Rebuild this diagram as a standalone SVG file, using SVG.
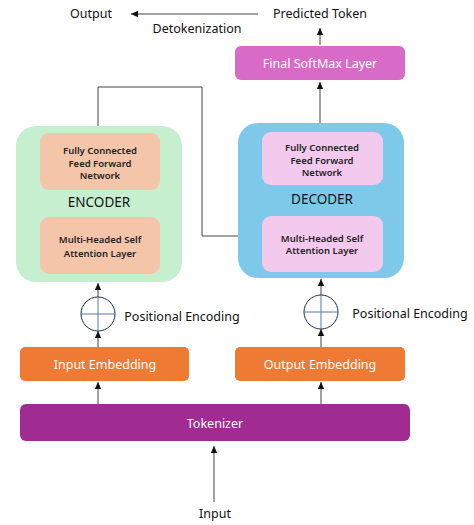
<svg xmlns="http://www.w3.org/2000/svg" width="474" height="525" viewBox="0 0 474 525">
<style>
text{font-family:"Noto Sans","Liberation Sans",sans-serif;text-anchor:middle;dominant-baseline:central}
.lbl{font-size:12.5px;fill:#111}
.w{font-size:12.5px;fill:#fff}
.sm{font-size:9.5px;fill:#222;font-weight:600}
.big{font-size:13.5px;fill:#111}
.ln{stroke:#444;stroke-width:1;fill:none}
</style>
<defs>
<marker id="ah" markerWidth="8" markerHeight="8" refX="7" refY="4" orient="auto" markerUnits="userSpaceOnUse">
<path d="M0,0.8 L7,4 L0,7.2 Z" fill="#111"/>
</marker>
</defs>
<rect width="474" height="525" fill="#fff"/>
<g id="connectors">
<line class="ln" x1="258" y1="14" x2="131" y2="14" marker-end="url(#ah)"/>
<line class="ln" x1="320" y1="45" x2="320" y2="28" marker-end="url(#ah)"/>
<line class="ln" x1="320" y1="123" x2="320" y2="82" marker-end="url(#ah)"/>
<polyline class="ln" points="98,126 98,87 202,87 202,236 238,236"/>
<line class="ln" x1="98" y1="297" x2="98" y2="283" marker-end="url(#ah)"/>
<line class="ln" x1="321" y1="295" x2="321" y2="279" marker-end="url(#ah)"/>
<line class="ln" x1="98" y1="347" x2="98" y2="331" marker-end="url(#ah)"/>
<line class="ln" x1="321" y1="347" x2="321" y2="329" marker-end="url(#ah)"/>
<line class="ln" x1="98" y1="404" x2="98" y2="382" marker-end="url(#ah)"/>
<line class="ln" x1="321" y1="404" x2="321" y2="382" marker-end="url(#ah)"/>
<line class="ln" x1="214" y1="502" x2="214" y2="446" marker-end="url(#ah)"/>
</g>
<g id="output"><text class="lbl" x="91" y="13">Output</text></g>
<g id="detok"><text class="lbl" x="197" y="28">Detokenization</text></g>
<g id="predicted"><text class="lbl" x="320" y="13">Predicted Token</text></g>
<g id="softmax">
<rect x="235" y="46" width="170" height="34" rx="6" fill="#d86bc8"/>
<text class="w" x="320" y="63">Final SoftMax Layer</text>
</g>
<g id="encoder">
<rect x="16" y="126" width="166" height="156" rx="20" fill="#c6efd0"/>
<rect x="40" y="133" width="120" height="57" rx="9" fill="#f5c5aa"/>
<text class="sm" x="100" y="150">Fully Connected</text>
<text class="sm" x="100" y="163">Feed Forward</text>
<text class="sm" x="100" y="175">Network</text>
<text class="big" x="99" y="202">ENCODER</text>
<rect x="40" y="217" width="120" height="57" rx="9" fill="#f5c5aa"/>
<text class="sm" x="100" y="239">Multi-Headed Self</text>
<text class="sm" x="100" y="253">Attention Layer</text>
</g>
<g id="decoder">
<rect x="238" y="123" width="166" height="155" rx="20" fill="#7ec8e9"/>
<rect x="262" y="132" width="121" height="53" rx="9" fill="#f3c9ee"/>
<text class="sm" x="322" y="147">Fully Connected</text>
<text class="sm" x="322" y="160">Feed Forward</text>
<text class="sm" x="322" y="172">Network</text>
<text class="big" x="322" y="199">DECODER</text>
<rect x="262" y="216" width="121" height="56" rx="9" fill="#f3c9ee"/>
<text class="sm" x="322" y="238">Multi-Headed Self</text>
<text class="sm" x="322" y="250">Attention Layer</text>
</g>
<g id="pe-left">
<circle cx="98" cy="314" r="17" fill="#fff" stroke="#1f2f4a" stroke-width="1"/>
<line x1="81" y1="314" x2="115" y2="314" stroke="#5a7a9a" stroke-width="1"/>
<line x1="98" y1="297" x2="98" y2="331" stroke="#5a7a9a" stroke-width="1"/>
<text class="lbl" x="182" y="316">Positional Encoding</text>
</g>
<g id="pe-right">
<circle cx="321" cy="312" r="17" fill="#fff" stroke="#1f2f4a" stroke-width="1"/>
<line x1="304" y1="312" x2="338" y2="312" stroke="#5a7a9a" stroke-width="1"/>
<line x1="321" y1="295" x2="321" y2="329" stroke="#5a7a9a" stroke-width="1"/>
<text class="lbl" x="410" y="313">Positional Encoding</text>
</g>
<g id="input-emb">
<rect x="20" y="347" width="169" height="34" rx="5" fill="#ee7a33"/>
<text class="w" x="105" y="364">Input Embedding</text>
</g>
<g id="output-emb">
<rect x="235" y="347" width="170" height="34" rx="5" fill="#ee7a33"/>
<text class="w" x="320" y="364">Output Embedding</text>
</g>
<g id="tokenizer">
<rect x="20" y="404" width="390" height="37" rx="6" fill="#a02b91"/>
<text class="w" x="215" y="423">Tokenizer</text>
</g>
<g id="input"><text class="lbl" x="215" y="513">Input</text></g>
</svg>
